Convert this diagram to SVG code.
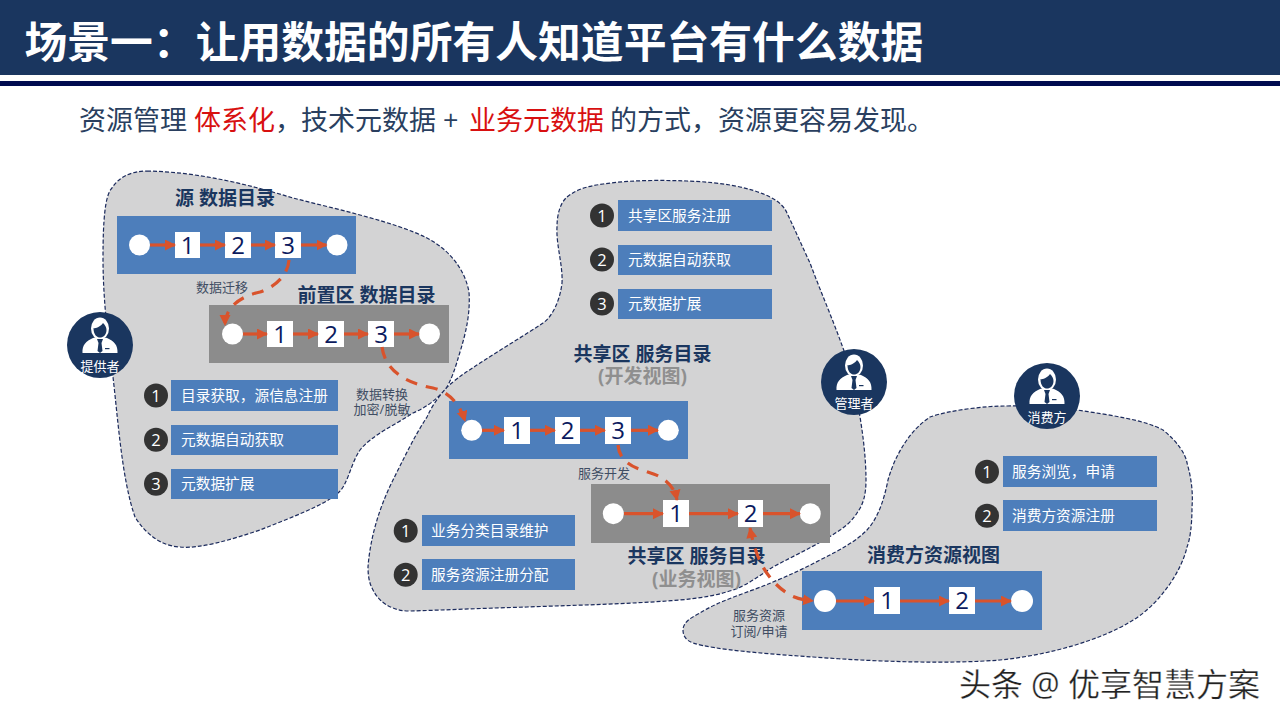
<svg xmlns="http://www.w3.org/2000/svg" width="1280" height="720" viewBox="0 0 1280 720">
<style>
text{font-family:"Open Sans","Noto Sans CJK SC",sans-serif}
.blob{fill:#d3d3d4;stroke:#1b2a5c;stroke-width:1.2;stroke-dasharray:4 2}
.blue{fill:#4d7ebb}.gray{fill:#8c8c8c}
.dot{fill:#fff}.sq{fill:#fff}
.n{font-size:24px;fill:#0b1a5e;text-anchor:middle}
.h{font-size:19px;font-weight:700;fill:#1a365f;text-anchor:middle}
.sub{font-size:19px;font-weight:700;fill:#8f8f8f;text-anchor:middle}
.lab{font-size:13px;fill:#3f4d63;text-anchor:middle}
.item{font-size:14.7px;fill:#fff}
.bn{font-size:16.5px;fill:#fff;text-anchor:middle}
.bc{fill:#333}
.who{font-size:13px;fill:#fff;text-anchor:middle}
.solid{fill:none;stroke:#d9532c;stroke-width:3.2;marker-end:url(#a)}
.dash{fill:none;stroke:#d9532c;stroke-width:3.2;stroke-dasharray:12 9;marker-end:url(#a)}
</style>
<defs>
<marker id="a" markerUnits="userSpaceOnUse" markerWidth="12" markerHeight="12" refX="10" refY="5.5" orient="auto"><path d="M0 0L11 5.500L0 11Z" fill="#d9532c"/></marker>
<marker id="as" markerUnits="userSpaceOnUse" markerWidth="12" markerHeight="12" refX="1" refY="5.5" orient="auto"><path d="M11 0L0 5.500L11 11Z" fill="#d9532c"/></marker>
<g id="person">
<circle r="33" fill="#1a365f"/>
<path d="M-17.500 8C-18 0-14-4-7-7L-3-8L0-3L3-8L7-7C14-4 18 0 17.500 8Z" fill="#fff"/>
<ellipse cx="0" cy="-16.500" rx="9" ry="11" fill="#fff"/>
<path d="M-6.500-17C-4-16 1-19 3-22C5-20 6.500-18 6.500-15C6.500-10 3-7.500 0-7.500C-3-7.500-6.500-10-6.500-17Z" fill="#1a365f"/>
<path d="M-3-6L3-6L1.500-2L2.500 6L0 8L-2.500 6L-1.500-2Z" fill="#1a365f"/>
<rect x="5" y="3" width="4.500" height="1.200" fill="#1a365f"/>
</g>
</defs>
<rect width="1280" height="720" fill="#fff"/>
<rect width="1280" height="75" fill="#1a365f"/>
<rect y="81" width="1280" height="5" fill="#000b4f"/>
<text x="24.500" y="58" font-size="42.800" font-weight="700" fill="#fff">场景一：让用数据的所有人知道平台有什么数据</text>
<text y="130" font-size="27" fill="#2a3f5f"><tspan x="79">资源管理</tspan><tspan x="194" fill="#d81010">体系化</tspan><tspan x="275">，</tspan><tspan x="301">技术元数据</tspan><tspan x="443">+</tspan><tspan x="469" fill="#d81010">业务元数据</tspan><tspan x="610">的方式，资源更容易发现。</tspan></text>

<path class="blob" d="M147 171C200 172 250 185 293 198C340 210 395 222 427 238C450 250 465 270 469 292C471 320 462 345 457 362C452 378 447 390 440 395C430 405 420 410 413 413C395 425 372 435 360 450C350 465 348 485 338 493C325 505 290 518 260 530C230 540 200 549 180 547C160 546 145 533 135 517C122 480 118 420 113 377C108 340 103 300 103 258C103 220 105 195 112 188C118 178 130 171 147 171Z"/>
<path class="blob" d="M567 197C578 188 590 186 603 184C630 180 660 180 687 181C720 182 750 187 770 197C780 202 785 208 787 213C795 230 803 248 810 263C820 290 833 320 843 348C855 380 866 440 866 480C866 495 863 505 857 513C852 521 846 526 840 530C818 545 795 555 773 567C760 575 748 585 733 590C715 596 700 598 680 600C630 604 580 605 527 607C490 608 445 610 410 611C403 611 398 610 393 608C383 604 377 598 373 590C369 583 368 575 368 567C370 540 378 510 393 480C403 460 415 435 427 417C433 403 445 388 453 382C465 372 470 370 480 363C500 350 525 335 543 323C553 316 560 300 562 283C563 265 556 245 557 227C557 215 560 203 567 197Z"/>
<path class="blob" d="M1007 406C1030 405 1055 408 1077 410C1110 415 1145 420 1163 430C1178 442 1186 455 1187 463C1192 480 1193 495 1192 507C1192 525 1190 540 1187 547C1182 570 1160 605 1130 622C1100 640 1050 655 1000 660C950 664 880 662 813 657C770 654 715 650 693 643C685 640 683 635 683 630C683 622 692 617 700 613C720 600 750 592 773 582C790 575 805 568 820 560C840 550 855 542 867 530C878 518 884 500 888 480C895 455 910 430 930 417C950 410 985 406 1007 406Z"/>

<g id="provider"><use href="#person" x="100" y="345"/><text class="who" x="100" y="370.500">提供者</text></g>
<g id="manager"><use href="#person" x="854" y="382"/><text class="who" x="854" y="407.500">管理者</text></g>
<g id="consumer"><use href="#person" x="1047" y="396"/><text class="who" x="1047" y="421.500">消费方</text></g>

<g id="source-catalog">
<text class="h" x="225" y="205">源 数据目录</text>
<rect class="blue" x="117" y="216" width="239" height="58"/>
<circle class="dot" cx="139.500" cy="245" r="10.500"/><circle class="dot" cx="337" cy="245" r="10.500"/>
<rect class="sq" x="175" y="232" width="25" height="26"/><rect class="sq" x="225" y="232" width="26" height="26"/><rect class="sq" x="275" y="232" width="26" height="26"/>
<text class="n" x="187.500" y="253.500">1</text><text class="n" x="238" y="253.500">2</text><text class="n" x="288" y="253.500">3</text>
</g>
<g id="front-catalog">
<text class="h" x="366.500" y="302">前置区 数据目录</text>
<rect class="gray" x="209" y="305" width="240" height="58"/>
<circle class="dot" cx="232.500" cy="334" r="10.500"/><circle class="dot" cx="429.500" cy="334" r="10.500"/>
<rect class="sq" x="267" y="321" width="26" height="26"/><rect class="sq" x="318" y="321" width="26" height="26"/><rect class="sq" x="368" y="321" width="26" height="26"/>
<text class="n" x="280" y="342.500">1</text><text class="n" x="331" y="342.500">2</text><text class="n" x="381" y="342.500">3</text>
</g>
<g id="share-dev-catalog">
<text class="h" x="642.500" y="361">共享区 服务目录</text>
<text class="sub" x="642.500" y="383">(开发视图)</text>
<rect class="blue" x="449" y="401" width="239" height="58"/>
<circle class="dot" cx="471.700" cy="430.300" r="10.500"/><circle class="dot" cx="668.300" cy="430.300" r="10.500"/>
<rect class="sq" x="504" y="417" width="26" height="27"/><rect class="sq" x="555" y="417" width="25" height="27"/><rect class="sq" x="605" y="417" width="26" height="27"/>
<text class="n" x="517" y="439">1</text><text class="n" x="567.500" y="439">2</text><text class="n" x="618" y="439">3</text>
</g>
<g id="share-biz-catalog">
<rect class="gray" x="591" y="484" width="239" height="59"/>
<circle class="dot" cx="613.300" cy="513.700" r="10.500"/><circle class="dot" cx="810.300" cy="513.700" r="10.500"/>
<rect class="sq" x="663" y="500" width="26" height="27"/><rect class="sq" x="738" y="500" width="25" height="27"/>
<text class="n" x="676" y="522">1</text><text class="n" x="750.500" y="522">2</text>
<text class="h" x="696.500" y="563">共享区 服务目录</text>
<text class="sub" x="696.500" y="586">(业务视图)</text>
</g>
<g id="consumer-view">
<text class="h" x="933.500" y="562">消费方资源视图</text>
<rect class="blue" x="802" y="571" width="240" height="59"/>
<circle class="dot" cx="825" cy="601" r="11"/><circle class="dot" cx="1022" cy="601" r="11"/>
<rect class="sq" x="874" y="587" width="26" height="27"/><rect class="sq" x="949" y="587" width="26" height="27"/>
<text class="n" x="887" y="609">1</text><text class="n" x="962" y="609">2</text>
</g>

<g id="provider-list">
<circle class="bc" cx="156" cy="395.500" r="12"/><rect class="blue" x="171" y="380" width="167" height="31"/><text class="bn" x="156" y="401.500">1</text><text class="item" x="181" y="400.500">目录获取，源信息注册</text>
<circle class="bc" cx="156" cy="439.700" r="12"/><rect class="blue" x="171" y="425" width="167" height="30"/><text class="bn" x="156" y="445.700">2</text><text class="item" x="181" y="444.500">元数据自动获取</text>
<circle class="bc" cx="156" cy="483.700" r="12"/><rect class="blue" x="171" y="469" width="167" height="30"/><text class="bn" x="156" y="489.700">3</text><text class="item" x="181" y="488.500">元数据扩展</text>
</g>
<g id="manager-list-top">
<circle class="bc" cx="602" cy="215.500" r="12"/><rect class="blue" x="618" y="200" width="154" height="31"/><text class="bn" x="602" y="221.500">1</text><text class="item" x="628" y="220.500">共享区服务注册</text>
<circle class="bc" cx="602" cy="259.500" r="12"/><rect class="blue" x="618" y="245" width="154" height="30"/><text class="bn" x="602" y="265.500">2</text><text class="item" x="628" y="264.500">元数据自动获取</text>
<circle class="bc" cx="602" cy="303.500" r="12"/><rect class="blue" x="618" y="289" width="154" height="30"/><text class="bn" x="602" y="309.500">3</text><text class="item" x="628" y="308.500">元数据扩展</text>
</g>
<g id="manager-list-bottom">
<circle class="bc" cx="405.700" cy="530.700" r="12"/><rect class="blue" x="422" y="515" width="153" height="31"/><text class="bn" x="405.700" y="536.700">1</text><text class="item" x="431" y="535.500">业务分类目录维护</text>
<circle class="bc" cx="405.700" cy="574.700" r="12"/><rect class="blue" x="422" y="559" width="153" height="31"/><text class="bn" x="405.700" y="580.700">2</text><text class="item" x="431" y="579.500">服务资源注册分配</text>
</g>
<g id="consumer-list">
<circle class="bc" cx="987" cy="471.700" r="12"/><rect class="blue" x="1003" y="456" width="154" height="31"/><text class="bn" x="987" y="477.700">1</text><text class="item" x="1012" y="476.500">服务浏览，申请</text>
<circle class="bc" cx="987" cy="515.700" r="12"/><rect class="blue" x="1003" y="500" width="154" height="31"/><text class="bn" x="987" y="521.700">2</text><text class="item" x="1012" y="520.500">消费方资源注册</text>
</g>

<g id="labels">
<text class="lab" x="222" y="291.500">数据迁移</text>
<text class="lab" x="382" y="398.500">数据转换</text>
<text class="lab" x="382" y="413.500">加密/脱敏</text>
<text class="lab" x="604" y="477.500">服务开发</text>
<text class="lab" x="759" y="619.500">服务资源</text>
<text class="lab" x="759" y="635.500">订阅/申请</text>
</g>

<g id="connectors">
<path class="solid" d="M150 245H175"/><path class="solid" d="M200 245H225"/><path class="solid" d="M251 245H275"/><path class="solid" d="M301 245H326.500"/>
<path class="solid" d="M243 334H267"/><path class="solid" d="M293 334H318"/><path class="solid" d="M344 334H368"/><path class="solid" d="M394 334H419"/>
<path class="solid" d="M482 430.300H504"/><path class="solid" d="M530 430.300H555"/><path class="solid" d="M580 430.300H605"/><path class="solid" d="M631 430.300H658"/>
<path class="solid" d="M624 513.700H663"/><path class="solid" d="M689 513.700H738"/><path class="solid" d="M763 513.700H800"/>
<path class="solid" d="M836 601H874"/><path class="solid" d="M900 601H949"/><path class="solid" d="M975 601H1011"/>
<path class="dash" d="M289 260C288 275 275 287 260 292C245 295 225 305 225 325"/>
<path class="dash" d="M382 347C385 370 405 383 433 388C450 392 460 405 465 421"/>
<path class="dash" d="M618 445C620 470 650 470 660 477C670 483 675 490 677 500"/>
<path class="dash" d="M750 528C755 555 765 580 790 595C797 599 805 600 813 601" style="marker-start:url(#as)"/>
</g>
<text id="watermark" y="696" font-size="32" fill="#222" stroke="#fff" stroke-width="0.300"><tspan x="959">头条</tspan><tspan x="1031">@</tspan><tspan x="1068">优享智慧方案</tspan></text>
</svg>
